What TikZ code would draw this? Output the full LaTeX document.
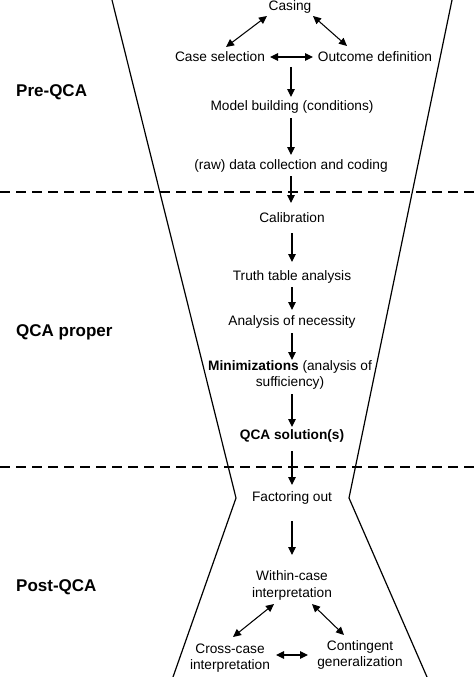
\documentclass[tikz,border=0pt]{standalone}
\usepackage{fontspec}
\setmainfont{Liberation Sans}
\usetikzlibrary{arrows.meta,calc}
\begin{document}
\begin{tikzpicture}[x=1pt,y=-1pt,
  txt/.style={inner sep=0pt,font=\fontsize{13.7}{16.5}\selectfont,align=center},
  phase/.style={inner sep=0pt,anchor=west,font=\fontsize{17}{20}\selectfont\bfseries},
  arr/.style={line width=1.05pt,-{Triangle[length=8pt,width=7.5pt]}},
  dbl/.style={line width=1.05pt,{Triangle[length=8pt,width=7.5pt]}-{Triangle[length=8pt,width=7.5pt]}},
  funnel/.style={line width=1.2pt},
  sep/.style={line width=1.5pt,dash pattern=on 10pt off 6pt}]
\useasboundingbox (0,0) rectangle (474,677);
% funnel
\draw[funnel] (112,0) -- (236,498) -- (173,677);
\draw[funnel] (452,0) -- (349,498) -- (427,677);
% separators
\draw[sep] (0,192) -- (474,192);
\draw[sep] (0,467) -- (474,467);
% phase labels
\node[phase] (pre) at (16,92) {Pre-QCA};
\node[phase] (proper) at (16,332) {QCA proper};
\node[phase] (post) at (16,587) {Post-QCA};
% nodes
\node[txt] (casing) at (290,7) {Casing};
\node[txt] (casesel) at (220,57) {Case selection};
\node[txt] (outcome) at (375,57) {Outcome definition};
\coordinate (split) at (291,67);
\node[txt] (model) at (292,107) {Model building (conditions)};
\node[txt] (raw) at (291,166) {(raw) data collection and coding};
\node[txt] (calib) at (292,218) {Calibration};
\node[txt] (truth) at (292,277) {Truth table analysis};
\node[txt] (nec) at (292,322) {Analysis of necessity};
\node[txt] (mini) at (290,375) {\textbf{Minimizations} (analysis of\\sufficiency)};
\node[txt] (sol) at (292,436) {\textbf{QCA solution(s)}};
\node[txt] (factor) at (292,498) {Factoring out};
\node[txt] (within) at (292,585.5) {Within-case\\interpretation};
\node[txt] (cross) at (230,658) {Cross-case\\interpretation};
\node[txt] (cont) at (360,655) {Contingent\\generalization};
% connectors
\draw[dbl] ($(casing)+(-23,9)$) -- ($(casesel)+(6,-10)$);
\draw[dbl] ($(casing)+(23,9)$) -- ($(outcome)+(-28,-11)$);
\draw[dbl] ($(casesel)+(50,0)$) -- ($(outcome)+(-62,0)$);
\draw[arr] (split) -- ($(model)+(-1,-10)$);
\draw[arr] ($(model)+(-1,11)$) -- ($(raw)+(0,-11)$);
\draw[arr] ($(raw)+(0,10)$) -- ($(calib)+(-1,-15)$);
\draw[arr] ($(calib)+(0,15)$) -- ($(truth)+(0,-15)$);
\draw[arr] ($(truth)+(0,10)$) -- ($(nec)+(0,-12)$);
\draw[arr] ($(nec)+(0,11)$) -- ($(mini)+(2,-15)$);
\draw[arr] ($(mini)+(2,19)$) -- ($(sol)+(0,-9)$);
\draw[arr] ($(sol)+(0,15)$) -- ($(factor)+(0,-13)$);
\draw[arr] ($(factor)+(0,23)$) -- ($(within)+(0,-30.5)$);
\draw[dbl] ($(within)+(-18,18.5)$) -- ($(cross)+(3,-21)$);
\draw[dbl] ($(within)+(20,18.5)$) -- ($(cont)+(-16,-20)$);
\draw[dbl] ($(cross)+(46,-3)$) -- ($(cont)+(-52,0)$);
\end{tikzpicture}
\end{document}
